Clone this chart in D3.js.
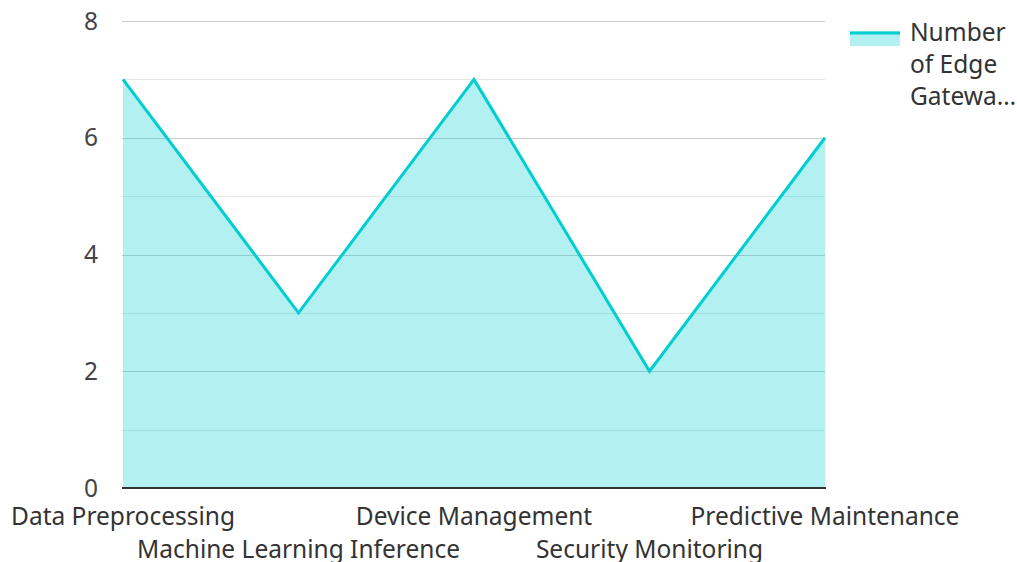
<!DOCTYPE html>
<html>
<head>
<meta charset="utf-8">
<script src="https://cdn.jsdelivr.net/npm/d3@7"></script>
<style>
  body { margin: 0; background: #fff; }
  svg text { font-family: "Noto Sans", sans-serif; }
</style>
</head>
<body>
<svg id="chart" width="1017" height="562"></svg>
<script>
const categories = ["Data Preprocessing", "Machine Learning Inference", "Device Management", "Security Monitoring", "Predictive Maintenance"];
const gatewayCounts = [7, 3, 7, 2, 6];
const yTicks = [0, 2, 4, 6, 8];
const seriesName = "Number of Edge Gateways";

const svg = d3.select("#chart");
const margin = { top: 21, right: 192, bottom: 74, left: 123 };
const width = 1017 - margin.left - margin.right;
const height = 562 - margin.top - margin.bottom;
const lineColor = "#00ced1";
const fontSize = 24.5;

const g = svg.append("g").attr("transform", `translate(${margin.left},${margin.top})`);

const x = d3.scalePoint().domain(categories).range([0, width]);
const y = d3.scaleLinear().domain([0, 8]).range([height, 0]);

// minor + major grid lines
g.append("g").selectAll("line")
  .data(d3.range(1, 8, 2))
  .join("line")
  .attr("x1", -1).attr("x2", width)
  .attr("y1", d => Math.round(y(d)) + 0.5).attr("y2", d => Math.round(y(d)) + 0.5)
  .attr("stroke", "#e6e6e6").attr("stroke-width", 1);

g.append("g").selectAll("line")
  .data(yTicks.slice(1))
  .join("line")
  .attr("x1", -1).attr("x2", width)
  .attr("y1", d => Math.round(y(d)) + 0.5).attr("y2", d => Math.round(y(d)) + 0.5)
  .attr("stroke", "#cccccc").attr("stroke-width", 1);

// y labels
g.append("g").selectAll("text")
  .data(yTicks)
  .join("text")
  .attr("x", -25)
  .attr("y", d => y(d))
  .attr("dy", "0.35em")
  .attr("text-anchor", "end")
  .attr("font-size", fontSize)
  .attr("fill", "#444")
  .text(d => d);

const pts = categories.map((c, i) => ({ c, v: gatewayCounts[i] }));

g.append("path")
  .datum(pts)
  .attr("fill", lineColor)
  .attr("fill-opacity", 0.3)
  .attr("d", d3.area().x(d => x(d.c)).y0(y(0)).y1(d => y(d.v)));

g.append("path")
  .datum(pts)
  .attr("fill", "none")
  .attr("stroke", lineColor)
  .attr("stroke-width", 3)
  .attr("stroke-linejoin", "miter")
  .attr("d", d3.line().x(d => x(d.c)).y(d => y(d.v)));

// x axis line
g.append("line")
  .attr("x1", -1).attr("x2", width + 1)
  .attr("y1", height).attr("y2", height)
  .attr("stroke", "#333").attr("stroke-width", 2);

// x labels, staggered
g.append("g").selectAll("text")
  .data(categories)
  .join("text")
  .attr("x", d => x(d))
  .attr("y", (d, i) => height + (i % 2 ? 70 : 37))
  .attr("text-anchor", "middle")
  .attr("font-size", fontSize)
  .attr("fill", "#333")
  .text(d => d);

// legend
const lg = svg.append("g").attr("transform", "translate(850,31)");
lg.append("rect").attr("x", 0).attr("y", 0).attr("width", 50).attr("height", 15)
  .attr("fill", lineColor).attr("fill-opacity", 0.3);
lg.append("line").attr("x1", 0).attr("x2", 50).attr("y1", 2).attr("y2", 2)
  .attr("stroke", lineColor).attr("stroke-width", 3);
const legendLines = ["Number", "of Edge", "Gatewa…"];
lg.append("text")
  .attr("x", 60).attr("y", 10)
  .attr("font-size", fontSize)
  .attr("fill", "#333")
  .selectAll("tspan")
  .data(legendLines)
  .join("tspan")
  .attr("x", 60)
  .attr("dy", (d, i) => i === 0 ? "0" : "32")
  .text(d => d);
lg.append("title").text(seriesName);
</script>
</body>
</html>
